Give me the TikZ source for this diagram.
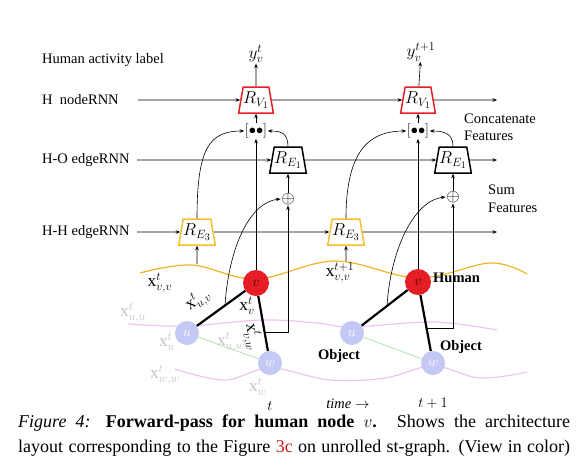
\documentclass[tikz,border=0pt]{standalone}
\usepackage{fontspec}
\setmainfont{Liberation Serif}
\usetikzlibrary{shapes.geometric,arrows.meta,calc}
\definecolor{rnnred}{RGB}{228,30,36}
\definecolor{rnnyel}{RGB}{245,192,45}
\definecolor{curveyel}{RGB}{240,180,40}
\definecolor{pinkc}{RGB}{240,195,240}
\definecolor{greenc}{RGB}{185,235,185}
\definecolor{objc}{RGB}{196,200,245}
\definecolor{grayt}{RGB}{195,195,195}
\definecolor{refred}{RGB}{200,30,30}
\begin{document}
\begin{tikzpicture}[x=1pt,y=-1pt,
  rnn/.style={trapezium, trapezium angle=75, trapezium stretches=true, draw, line width=1.5pt,
    minimum width=31pt, minimum height=26pt, inner sep=0pt, fill=white,
    font=\fontsize{17.28}{19}\selectfont},
  arr/.style={-{Stealth[length=4.5pt,width=3.6pt]}, line width=0.6pt},
  hline/.style={arr, line width=0.7pt},
  lab/.style={inner sep=0pt, anchor=west, font=\fontsize{14.5}{17}\selectfont},
  blab/.style={inner sep=0pt, font=\bfseries\fontsize{14.5}{17}\selectfont},
  mlab/.style={inner sep=0pt, font=\fontsize{17.28}{19}\selectfont},
  glab/.style={mlab, text=grayt},
  opnode/.style={inner sep=0.5pt, font=\fontsize{17.28}{19}\selectfont},
  ccnode/.style={inner sep=0.5pt, font=\fontsize{14.4}{15}\selectfont},
  objnode/.style={circle, fill=objc, minimum size=24pt, inner sep=0pt,
    text=white, font=\fontsize{14.4}{16}\selectfont},
  humnode/.style={circle, fill=rnnred, minimum size=26pt, inner sep=0pt,
    text=black!70!red, font=\fontsize{14.4}{16}\selectfont},
  bgc/.style={line width=1.2pt}
]
\useasboundingbox (0,0) rectangle (588,467);

% left labels
\node[lab] (lhal) at (42,60) {Human activity label};
\node[lab] (lnode) at (42,100) {H\ \ nodeRNN};
\node[lab] (lho) at (42,160) {H-O edgeRNN};
\node[lab] (lhh) at (42,232) {H-H edgeRNN};

% line ends
\coordinate (n0) at (138,100); \coordinate (n9) at (497,100);
\coordinate (o0) at (137,160); \coordinate (o9) at (497,160);
\coordinate (h0) at (137,232); \coordinate (h9) at (497,232);

% background curves
\draw[curveyel, bgc] plot[smooth, tension=0.6] coordinates
  {(140,273) (192,265) (256,279) (335,261) (418,278) (490,263) (527,274)};
\draw[pinkc, bgc] plot[smooth, tension=0.6] coordinates
  {(128,324) (187,326) (262,320) (317,323) (352,327) (433,322) (497,330)};
\draw[pinkc, bgc] plot[smooth, tension=0.6] coordinates
  {(175,369) (225,380) (270,368) (330,380) (385,378) (433,366) (480,378) (527,372)};

% graph nodes
\node[humnode] (va) at (256,283) {$v$};
\node[objnode] (ua) at (187,333) {$u$};
\node[objnode] (wa) at (270,363) {$w$};
\node[humnode] (vb) at (418,282) {$v$};
\node[objnode] (ub) at (352,333) {$u$};
\node[objnode] (wb) at (433,363) {$w$};

\draw[greenc, line width=1pt] (ua) -- (wa);
\draw[greenc, line width=1pt] (ub) -- (wb);
\draw[line width=2.2pt] (ua) -- (va);
\draw[line width=2.2pt] (va) -- (wa);
\draw[line width=2.2pt] (ub) -- (vb);
\draw[line width=2.2pt] (vb) -- (wb);

% RNN blocks
\node[rnn, draw=rnnred] (rva) at (256,100) {$R_{V_1}$};
\node[rnn, draw=rnnred] (rvb) at (418,100) {$R_{V_1}$};
\node[rnn, draw=black] (rea) at (288,160) {$R_{E_1}$};
\node[rnn, draw=black] (reb) at (453,160) {$R_{E_1}$};
\node[rnn, draw=rnnyel] (rga) at (197,232) {$R_{E_3}$};
\node[rnn, draw=rnnyel] (rgb) at (346,232) {$R_{E_3}$};

% outputs, concat, sum
\node[opnode] (ya) at (256,54) {$y_v^t$};
\node[opnode] (yb) at (421,52) {$y_v^{t+1}$};
\node[ccnode] (cca) at (256,131) {$\mathbf{[}{\bullet}{\bullet}\mathbf{]}$};
\node[ccnode] (ccb) at (418,131) {$\mathbf{[}{\bullet}{\bullet}\mathbf{]}$};
\node[opnode] (opa) at (288,199) {$\oplus$};
\node[opnode] (opb) at (453,197) {$\oplus$};

% horizontal RNN lines
\draw[hline] (n0) -- (rva); \draw[hline] (rva) -- (rvb); \draw[hline] (rvb) -- (n9);
\draw[hline] (o0) -- (rea); \draw[hline] (rea) -- (reb); \draw[hline] (reb) -- (o9);
\draw[hline] (h0) -- (rga); \draw[hline] (rga) -- (rgb); \draw[hline] (rgb) -- (h9);

% vertical connections (time t)
\draw[arr] (rva) -- (ya);
\draw[arr] (cca) -- (rva);
\draw[arr] (va) -- (cca);
\draw[arr] (opa) -- (rea);
\draw[arr] (rga.north) .. controls +(0,-70) and +(-35,0) .. (cca.west);
\draw[arr] (rea.north) .. controls +(0,-14) and +(12,0) .. (cca.east);
\coordinate (ea1) at ($(ua)!0.55!(va)$);
\draw[arr] (ea1) .. controls +(4,-60) and +(-30,3) .. (opa.west);
\coordinate (eb1) at ($(va)!0.62!(wa)$);
\draw[arr] (eb1) -| (opa.south);
\coordinate (ga) at (197,264);
\draw[arr] (ga) -- (rga.south);

% vertical connections (time t+1)
\draw[arr] (rvb) -- (yb);
\draw[arr] (ccb) -- (rvb);
\draw[arr] (vb) -- (ccb);
\draw[arr] (opb) -- (reb);
\draw[arr] (rgb.north) .. controls +(0,-70) and +(-35,0) .. (ccb.west);
\draw[arr] (reb.north) .. controls +(0,-14) and +(12,0) .. (ccb.east);
\coordinate (ea2) at ($(ub)!0.53!(vb)$);
\draw[arr] (ea2) .. controls +(4,-60) and +(-30,3) .. (opb.west);
\coordinate (eb2) at ($(vb)!0.57!(wb)$);
\draw[arr] (eb2) -| (opb.south);
\coordinate (gb) at (346,261);
\draw[arr] (gb) -- (rgb.south);

% side notes
\node[lab] (lcat1) at (464,119) {Concatenate};
\node[lab] (lcat2) at (464,136) {Features};
\node[lab] (lsum1) at (488,190) {Sum};
\node[lab] (lsum2) at (488,208) {Features};

% feature labels
\node[mlab] (lxvv) at (160,283) {$\mathrm{x}^t_{v,v}$};
\node[mlab] (lxvv2) at (340,273) {$\mathrm{x}^{t+1}_{v,v}$};
\node[mlab, rotate=36] (lxuv) at (198,300) {$\mathrm{x}^t_{u,v}$};
\node[mlab] (lxv) at (247,306) {$\mathrm{x}^t_v$};
\node[mlab, rotate=-80] (lxvw) at (252,337) {$\mathrm{x}^t_{v,w}$};
\node[glab] (lxuu) at (133,313) {$\mathrm{x}^t_{u,u}$};
\node[glab] (lxu) at (167,342) {$\mathrm{x}^t_u$};
\node[glab] (lxuw) at (231,342) {$\mathrm{x}^t_{u,w}$};
\node[glab] (lxww) at (165,375) {$\mathrm{x}^t_{w,w}$};
\node[glab] (lxw) at (258,387) {$\mathrm{x}^t_w$};

% node type labels
\node[blab, anchor=west] (hum) at (433,278) {Human};
\node[blab] (obj1) at (339,356) {Object};
\node[blab] (obj2) at (461,347) {Object};

% time axis
\node[mlab, font=\fontsize{14.4}{16}\selectfont] (tt) at (270,406) {$t$};
\node[mlab, font=\fontsize{14.4}{16}\selectfont] (tm) at (348,404) {$\mathit{time}\rightarrow$};
\node[mlab, font=\fontsize{14.4}{16}\selectfont] (tt1) at (433,403) {$t+1$};

% caption
\node[anchor=base west, inner sep=0pt, font=\fontsize{18}{22}\selectfont] (cap1) at (18,427)
  {\makebox[552pt][s]{\textit{Figure 4:} \textbf{Forward-pass for human node} $v$\textbf{.} Shows the architecture}};
\node[anchor=base west, inner sep=0pt, font=\fontsize{18}{22}\selectfont] (cap2) at (18,452)
  {\makebox[552pt][s]{layout corresponding to the Figure \textcolor{refred}{3c} on unrolled st-graph. (View in color)}};
\end{tikzpicture}
\end{document}
